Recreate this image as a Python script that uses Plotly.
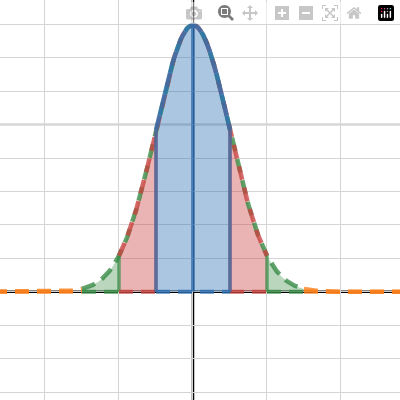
import numpy as np
import plotly.graph_objects as go

mu = 0.0
sigma = 1.0
inner = [-1, 1]          # blue band
middle = [-2, -1, 1, 2]  # red bands
outer = [-3, -2, 2, 3]   # green bands
centre = [0]

blue = "#2d70b3"
red = "#c74440"
green = "#388c46"
orange = "#fa7e19"
dash_style = "14px,8px"


def pdf(x):
    return np.exp(-0.5 * ((x - mu) / sigma) ** 2) / (sigma * np.sqrt(2 * np.pi))


fig = go.Figure()


def band(a, b, color, alpha):
    xs = np.linspace(a, b, 80)
    fig.add_trace(go.Scatter(x=np.r_[a, xs, b], y=np.r_[0, pdf(xs), 0], fill="toself",
                             fillcolor=f"rgba({int(color[1:3],16)},{int(color[3:5],16)},{int(color[5:],16)},{alpha})",
                             line=dict(width=0), mode="lines", hoverinfo="skip"))


def curve(a, b, color, dash, width=4.5):
    xs = np.linspace(a, b, 300)
    fig.add_trace(go.Scatter(x=xs, y=pdf(xs), mode="lines", line=dict(color=color, width=width, dash=dash),
                             opacity=0.8, hoverinfo="skip"))


def edges(xs, color):
    for v in xs:
        fig.add_trace(go.Scatter(x=[v, v], y=[0, pdf(v)], mode="lines",
                                 line=dict(color=color, width=3.5), opacity=0.7, hoverinfo="skip"))


def base(a, b, color):
    fig.add_trace(go.Scatter(x=[a, b], y=[0, 0], mode="lines",
                             line=dict(color=color, width=4, dash=dash_style), opacity=0.8, hoverinfo="skip"))


band(outer[0], outer[1], green, 0.35)
band(outer[2], outer[3], green, 0.35)
band(middle[0], middle[1], red, 0.4)
band(middle[2], middle[3], red, 0.4)
band(inner[0], inner[1], blue, 0.4)

curve(-6, outer[0], orange, dash_style)
curve(outer[3], 6, orange, dash_style)
base(-6, outer[0], orange)
base(outer[3], 6, orange)
curve(outer[0], outer[3], green, dash_style)
base(outer[0], outer[1], green)
base(outer[2], outer[3], green)
edges([outer[1], outer[2]], green)
curve(middle[0], middle[3], red, dash_style)
base(middle[0], middle[1], red)
base(middle[2], middle[3], red)
edges([middle[1], middle[2]], red)
curve(inner[0], inner[1], blue, "solid")
base(inner[0], inner[1], blue)
edges(inner + centre, blue)

fig.add_hline(y=0.25, line=dict(color="#8c8c8c", width=1.5), layer="below")
fig.add_vline(x=0, line=dict(color="black", width=2.5), layer="below")
fig.add_hline(y=0, line=dict(color="black", width=2.5), layer="below")

fig.update_xaxes(range=[-5.216, 5.595], dtick=2, tick0=0, showgrid=True, gridcolor="#d4d4d4",
                 zeroline=False, showticklabels=False)
fig.update_yaxes(range=[-0.1617, 0.4363], dtick=0.05, tick0=0, showgrid=True, gridcolor="#d4d4d4",
                 zeroline=False, showticklabels=False)
fig.update_layout(width=400, height=400, margin=dict(l=0, r=0, t=0, b=0), showlegend=False,
                  plot_bgcolor="white", paper_bgcolor="white")
fig.write_html("out.html", post_script="document.body.style.margin='0';")
